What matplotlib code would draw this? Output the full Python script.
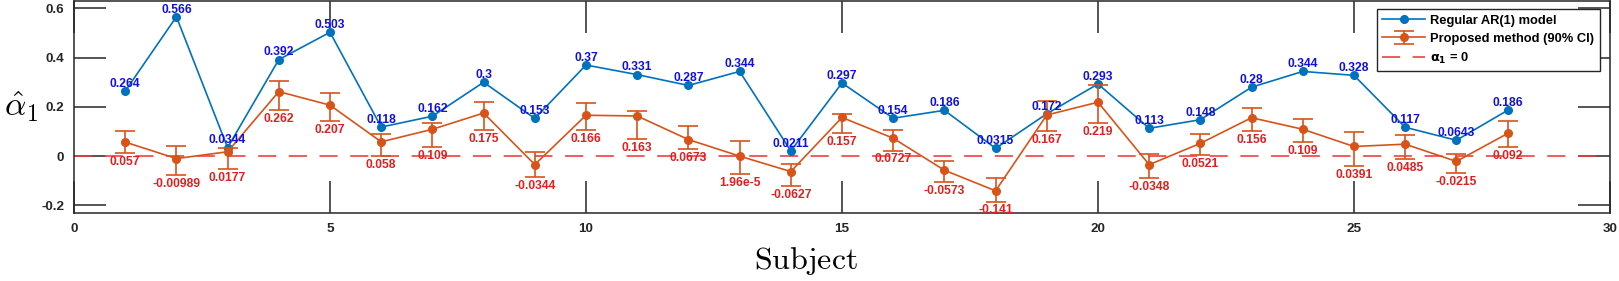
import numpy as np
import matplotlib
matplotlib.use('Agg')
import matplotlib.pyplot as plt

# per-subject estimates of alpha_1
subjects = np.arange(1, 29)
alpha_ar = [0.264, 0.566, 0.0344, 0.392, 0.503, 0.118, 0.162, 0.3, 0.153, 0.37,
            0.331, 0.287, 0.344, 0.0211, 0.297, 0.154, 0.186, 0.0315, 0.172, 0.293,
            0.113, 0.148, 0.28, 0.344, 0.328, 0.117, 0.0643, 0.186]
alpha_prop = [0.057, -0.00989, 0.0177, 0.262, 0.207, 0.058, 0.109, 0.175, -0.0344, 0.166,
              0.163, 0.0673, 1.96e-5, -0.0627, 0.157, 0.0727, -0.0573, -0.141, 0.167, 0.219,
              -0.0348, 0.0521, 0.156, 0.109, 0.0391, 0.0485, -0.0215, 0.092]
# 90% CI bounds of the proposed method
ci_lo = [0.011, -0.077, -0.054, 0.186, 0.142, 0.0, 0.038, 0.105, -0.084, 0.105,
         0.069, 0.028, -0.073, -0.122, 0.092, 0.022, -0.104, -0.185, 0.101, 0.133,
         -0.090, 0.004, 0.103, 0.058, -0.039, -0.012, -0.068, 0.038]
ci_hi = [0.100, 0.0405, 0.035, 0.307, 0.258, 0.088, 0.135, 0.218, 0.015, 0.214,
         0.185, 0.122, 0.060, -0.030, 0.170, 0.105, -0.018, -0.090, 0.225, 0.288,
         0.007, 0.088, 0.197, 0.150, 0.096, 0.085, 0.007, 0.141]


def fmt(v):
    s = f'{v:.3g}'
    return s.replace('e-0', 'e-').replace('e+0', 'e+')


plt.rcParams['font.family'] = ['Liberation Sans', 'DejaVu Sans']
plt.rcParams['font.weight'] = 'bold'
plt.rcParams['mathtext.fontset'] = 'cm'

dark = '#262626'
c_blue = '#0072BD'
c_orange = '#D95319'

fig = plt.figure(figsize=(16.19, 2.81), dpi=100)
ax = fig.add_axes([74 / 1619, 1 - 213 / 281, 1536 / 1619, 212 / 281])

y = np.array(alpha_prop)
lo = y - np.array(ci_lo)
hi = np.array(ci_hi) - y

h1, = ax.plot(subjects, alpha_ar, '-o', color=c_blue, lw=1.2, ms=5.5,
              label='Regular AR(1) model', zorder=3)
h2 = ax.errorbar(subjects, y, yerr=[lo, hi], fmt='-o', color=c_orange, lw=1.2, ms=5.5,
                 capsize=7, capthick=1.2, elinewidth=1.2,
                 label='Proposed method (90% CI)', zorder=3)
h3 = ax.axhline(0, color='#ee3b3b', lw=1.3, ls=(0, (10, 7)), alpha=0.9,
                label=r'$\mathbf{\alpha}_\mathbf{1}$ = 0', zorder=2)

for xi, v in zip(subjects, alpha_ar):
    ax.annotate(fmt(v), (xi, v), xytext=(0, 3), textcoords='offset points',
                ha='center', va='baseline', color='#1010e0', fontsize=8.7,
                fontweight='bold', zorder=5)
for xi, v, l in zip(subjects, alpha_prop, ci_lo):
    ax.annotate(fmt(v), (xi, l), xytext=(0, -2), textcoords='offset points',
                ha='center', va='top', color='#e41e1e', fontsize=8.7,
                fontweight='bold', zorder=5)

ax.set_xlim(0, 30)
ax.set_ylim(-0.231, 0.630)
ax.set_xticks([0, 5, 10, 15, 20, 25, 30])
ax.set_yticks([-0.2, 0, 0.2, 0.4, 0.6])
ax.set_yticklabels(['-0.2', '0', '0.2', '0.4', '0.6'])
ax.tick_params(direction='in', length=23, width=1.1, color=dark, labelcolor=dark,
               labelsize=9.7, top=True, right=True, pad=7)
for sp in ax.spines.values():
    sp.set_color(dark)
    sp.set_linewidth(1.1)

ax.set_ylabel(r'$\hat{\alpha}_1$', fontsize=24, rotation=0, va='center', ha='center')
ax.yaxis.set_label_coords(-0.034, 0.5)
ax.set_xlabel(r'$\mathrm{Subject}$', fontsize=23, va='center')
ax.xaxis.set_label_coords((806 - 74) / 1536, -(261 - 213) / 212)

leg = ax.legend([h1, h2, h3], [h1.get_label(), h2.get_label(), h3.get_label()],
                loc='upper right', bbox_to_anchor=((1600 - 74) / 1536, (213 - 9) / 212),
                borderaxespad=0, fancybox=False, framealpha=1, edgecolor=dark,
                prop={'weight': 'bold', 'size': 9.3}, handlelength=3.3,
                handletextpad=0.4, labelspacing=0.45, borderpad=0.45)
leg.get_frame().set_linewidth(1.0)
for t in leg.get_texts():
    t.set_math_fontfamily('dejavusans')

fig.savefig('out.png', dpi=100)
